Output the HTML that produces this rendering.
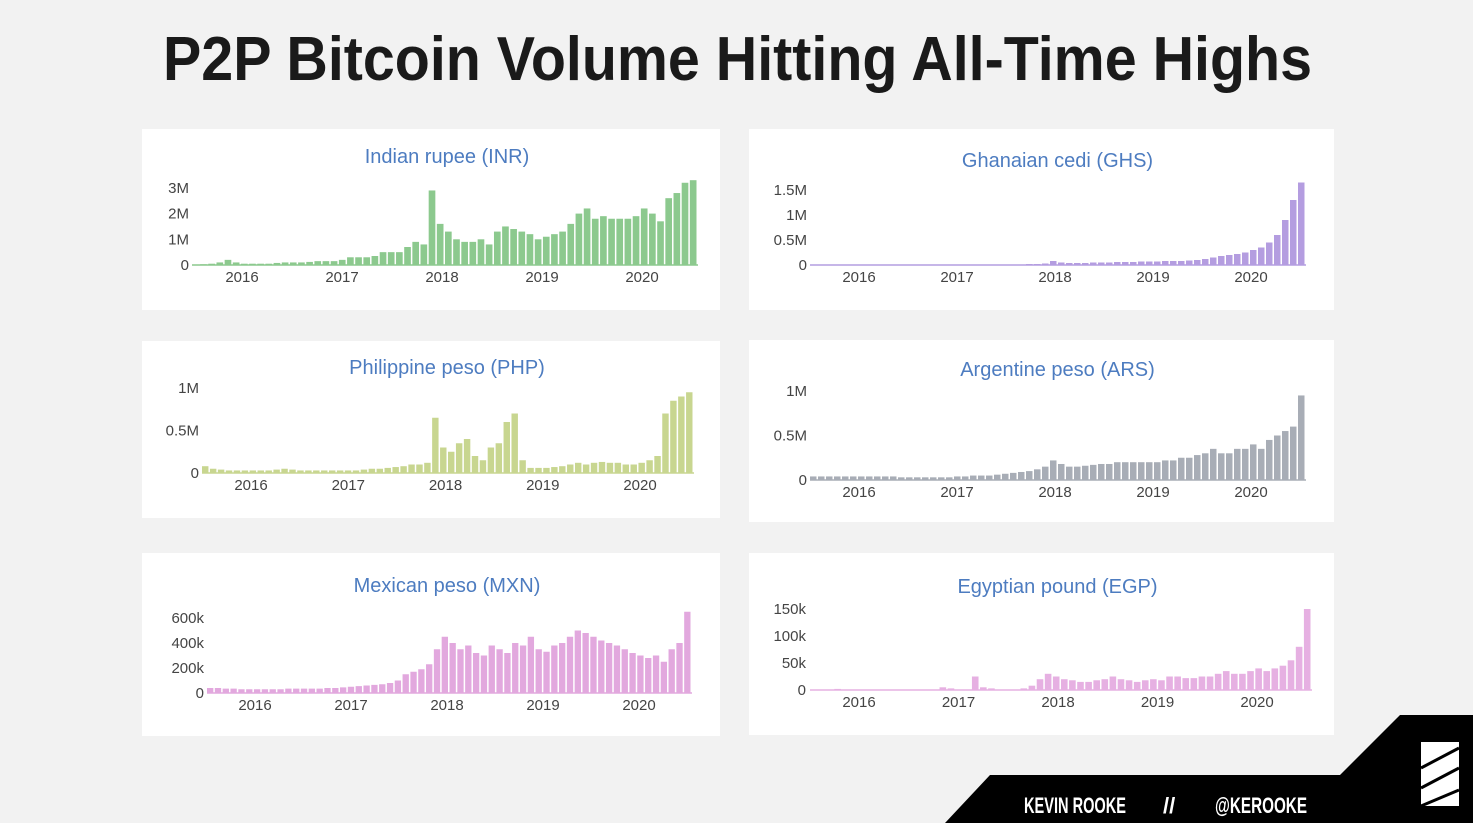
<!DOCTYPE html>
<html><head><meta charset="utf-8"><style>
html,body{margin:0;padding:0;background:#f2f2f2;width:1473px;height:823px;overflow:hidden;font-family:"Liberation Sans",sans-serif}
svg{position:absolute;left:0;top:0}
</style></head><body>
<svg id="main" width="1473" height="823">
<text x="163" y="80" font-size="62" font-weight="bold" fill="#1a1a1a" textLength="1149" lengthAdjust="spacingAndGlyphs" font-family="Liberation Sans, sans-serif">P2P Bitcoin Volume Hitting All-Time Highs</text>
<polygon points="945,823 990,775 1340,775 1400,715 1473,715 1473,823" fill="#000"/>
<text x="1024" y="813" font-size="22" font-weight="bold" fill="#fff" textLength="102" lengthAdjust="spacingAndGlyphs">KEVIN ROOKE</text>
<text x="1163" y="813" font-size="22" font-weight="bold" fill="#fff">//</text>
<text x="1215" y="813" font-size="22" font-weight="bold" fill="#fff" textLength="92" lengthAdjust="spacingAndGlyphs">@KEROOKE</text>
<g>
<rect x="1421" y="742" width="38" height="64" fill="#fff"/>
<line x1="1421" y1="768" x2="1459" y2="748" stroke="#000" stroke-width="3"/>
<line x1="1421" y1="788" x2="1459" y2="768" stroke="#000" stroke-width="3"/>
<line x1="1421" y1="806" x2="1459" y2="790" stroke="#000" stroke-width="3"/>
</g>
</svg>
<script>
const yearLabels = ["2016","2017","2018","2019","2020"];
const inrValues = [0.02,0.03,0.05,0.1,0.2,0.1, 0.05,0.05,0.05,0.05,0.08,0.1,0.1,0.1,0.12,0.15,0.15,0.15, 0.2,0.3,0.3,0.3,0.35,0.5,0.5,0.5,0.7,0.9,0.8,2.9, 1.6,1.3,1.0,0.9,0.9,1.0,0.8,1.3,1.5,1.4,1.3,1.2, 1.0,1.1,1.2,1.3,1.6,2.0,2.2,1.8,1.9,1.8,1.8,1.8, 1.9,2.2,2.0,1.7,2.6,2.8,3.2,3.3];
const ghsValues = [0,0,0,0,0,0, 0.003,0.003,0.003,0.003,0.003,0.003,0.003,0.003,0.003,0.003,0.003,0.003, 0.005,0.005,0.005,0.005,0.005,0.005,0.01,0.01,0.01,0.02,0.02,0.03, 0.08,0.05,0.04,0.04,0.04,0.05,0.05,0.05,0.06,0.06,0.06,0.07, 0.07,0.07,0.08,0.08,0.08,0.09,0.1,0.12,0.15,0.18,0.2,0.22, 0.25,0.3,0.35,0.45,0.6,0.9,1.3,1.65];
const phpValues = [0.08,0.05,0.04,0.03,0.03,0.03, 0.03,0.03,0.03,0.04,0.05,0.04,0.03,0.03,0.03,0.03,0.03,0.03, 0.03,0.03,0.04,0.05,0.05,0.06,0.07,0.08,0.1,0.1,0.12,0.65, 0.3,0.25,0.35,0.4,0.2,0.15,0.3,0.35,0.6,0.7,0.15,0.06, 0.06,0.06,0.07,0.08,0.1,0.12,0.1,0.12,0.13,0.12,0.12,0.1, 0.1,0.12,0.15,0.2,0.7,0.85,0.9,0.95];
const arsValues = [0.04,0.04,0.04,0.04,0.04,0.04, 0.04,0.04,0.04,0.04,0.04,0.03,0.03,0.03,0.03,0.03,0.03,0.03, 0.04,0.04,0.05,0.05,0.05,0.06,0.07,0.08,0.09,0.1,0.12,0.15, 0.22,0.18,0.15,0.15,0.16,0.17,0.18,0.18,0.2,0.2,0.2,0.2, 0.2,0.2,0.22,0.22,0.25,0.25,0.28,0.3,0.35,0.3,0.3,0.35, 0.35,0.4,0.35,0.45,0.5,0.55,0.6,0.95];
const mxnValues = [40,40,35,35,30,30, 30,30,30,30,35,35,35,35,35,40,40,45, 50,55,60,65,70,80,100,150,170,190,230,350, 450,400,350,380,320,300,380,350,320,400,380,450, 350,330,380,400,450,500,480,450,420,400,380,350, 320,300,280,300,250,350,400,650];
const egpValues = [0,0,0,2,0,0, 0,0,0,0,0,0,0,0,0,0,5,3, 0,0,25,5,3,0,0,0,3,8,20,30, 25,20,18,15,15,18,20,25,20,18,15,18, 20,18,25,25,22,22,25,25,30,35,30,30, 35,40,35,40,45,55,80,150];
const inrTicks = [0,1,2,3], inrTickLabels = ["0","1M","2M","3M"];
const ghsTicks = [0,0.5,1,1.5], ghsTickLabels = ["0","0.5M","1M","1.5M"];
const phpTicks = [0,0.5,1], phpTickLabels = ["0","0.5M","1M"];
const arsTicks = [0,0.5,1], arsTickLabels = ["0","0.5M","1M"];
const mxnTicks = [0,200,400,600], mxnTickLabels = ["0","200k","400k","600k"];
const egpTicks = [0,50,100,150], egpTickLabels = ["0","50k","100k","150k"];

const NS="http://www.w3.org/2000/svg";
const svg=document.getElementById('main');
function mk(tag,attrs,parent){const e=document.createElementNS(NS,tag);for(const k in attrs)e.setAttribute(k,attrs[k]);(parent||svg).appendChild(e);return e;}

const panels=[
 {name:'inr',title:'Indian rupee (INR)',vals:inrValues,ticks:inrTicks,labels:inrTickLabels,color:'#8cc98e',px:142,py:129,pw:578,ph:181,ty:163,zero:265,unitVal:1,unitPx:25.7,x16:242,ppy:100,tickX:189,x0:192,x1:698},
 {name:'ghs',title:'Ghanaian cedi (GHS)',vals:ghsValues,ticks:ghsTicks,labels:ghsTickLabels,color:'#b49de0',px:749,py:129,pw:585,ph:181,ty:167,zero:265,unitVal:0.5,unitPx:25,x16:859,ppy:98,tickX:807,x0:810,x1:1306},
 {name:'php',title:'Philippine peso (PHP)',vals:phpValues,ticks:phpTicks,labels:phpTickLabels,color:'#c8d690',px:142,py:341,pw:578,ph:177,ty:374,zero:473,unitVal:0.5,unitPx:42.5,x16:251,ppy:97.25,tickX:199,x0:202,x1:694},
 {name:'ars',title:'Argentine peso (ARS)',vals:arsValues,ticks:arsTicks,labels:arsTickLabels,color:'#a8adb6',px:749,py:340,pw:585,ph:182,ty:376,zero:480,unitVal:0.5,unitPx:44.5,x16:859,ppy:98,tickX:807,x0:810,x1:1306},
 {name:'mxn',title:'Mexican peso (MXN)',vals:mxnValues,ticks:mxnTicks,labels:mxnTickLabels,color:'#e2a8de',px:142,py:553,pw:578,ph:183,ty:592,zero:693,unitVal:200,unitPx:25,x16:255,ppy:96,tickX:204,x0:207,x1:692},
 {name:'egp',title:'Egyptian pound (EGP)',vals:egpValues,ticks:egpTicks,labels:egpTickLabels,color:'#e6b0e2',px:749,py:553,pw:585,ph:182,ty:593,zero:690,unitVal:50,unitPx:27,x16:859,ppy:99.5,tickX:806,x0:810,x1:1312}
];
panels.forEach(p=>{
 const g=mk('g',{});
 
 
 const bg=mk('rect',{x:p.px,y:p.py,width:p.pw,height:p.ph,fill:'#fff'},g);
 
 
 const t=mk('text',{x:p.px+p.pw/2+16,y:p.ty,'text-anchor':'middle','font-size':20,fill:'#4d7cc0'},g);
 t.textContent=p.title;
 
 
 const yS=v=>p.zero - v/p.unitVal*p.unitPx;
 const xS=tm=>p.x16 + (tm-2016)*p.ppy;
 p.ticks.forEach((v,i)=>{
  const l=mk('text',{x:p.tickX,y:yS(v)+5,'text-anchor':'end','font-size':15,fill:'#444'},g);
  l.textContent=p.labels[i];
  
  
 });
 yearLabels.forEach((y,i)=>{
  const l=mk('text',{x:xS(2016+i),y:p.zero+17,'text-anchor':'middle','font-size':15,fill:'#444'},g);
  l.textContent=y;
  
  
 });
 const n=p.vals.length;
 const bw=(p.x1-p.x0)/n;
 mk('line',{x1:p.x0,x2:p.x1,y1:p.zero,y2:p.zero,stroke:p.color,'stroke-width':1.5},g);
 p.vals.forEach((v,i)=>{
  const x=p.x0+i*bw;
  const y=yS(v);
  const b=mk('rect',{x:x,y:y,width:Math.max(bw-1.5,1),height:Math.max(p.zero-y,0),fill:p.color},g);
  
  
 });
});
</script>
</body></html>
